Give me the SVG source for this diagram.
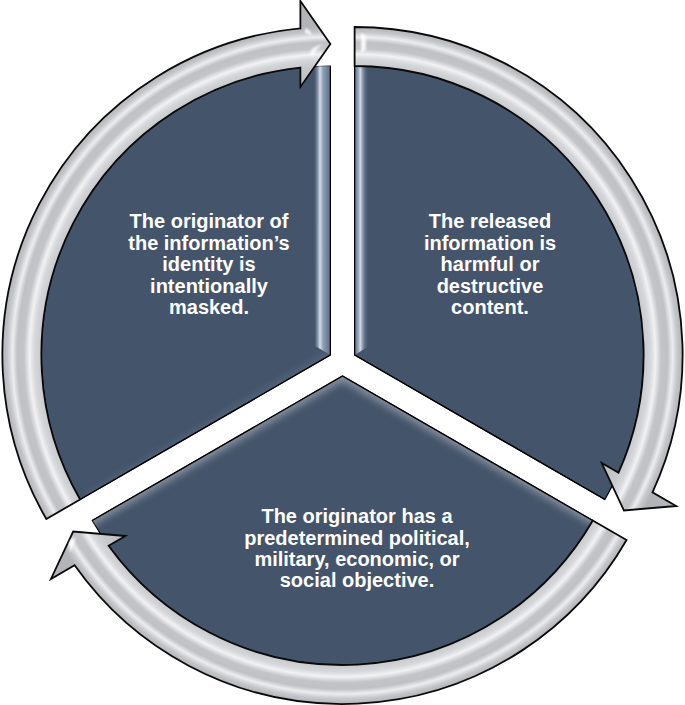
<svg xmlns="http://www.w3.org/2000/svg" width="685" height="705" viewBox="0 0 685 705">
  <style>
    .sector { fill: #44546A; stroke: #000000; stroke-width: 1.2; stroke-linejoin: round; }
    .arrow { stroke: #0A0A0A; stroke-width: 1.8; stroke-linejoin: miter; }
    .label { fill: #FFFFFF; font-family: "Liberation Sans", Arial, sans-serif; font-weight: bold; font-size: 20px; text-anchor: middle; }
    .hl { fill: #FFFFFF; opacity: 0.85; }
  </style>
  <defs>
    <radialGradient id="band" gradientUnits="userSpaceOnUse" cx="0" cy="0" r="354">
      <stop offset="0" stop-color="#BBBCC0"/>
      <stop offset="0.757" stop-color="#B9BABE"/>
      <stop offset="0.816" stop-color="#C8C9CD"/>
      <stop offset="0.836" stop-color="#D6D7DA"/>
      <stop offset="0.850" stop-color="#F2F2F4"/>
      <stop offset="0.866" stop-color="#C3C4C8"/>
      <stop offset="0.884" stop-color="#C0C1C5"/>
      <stop offset="0.898" stop-color="#EDEDEF"/>
      <stop offset="0.912" stop-color="#C6C7CB"/>
      <stop offset="0.927" stop-color="#B2B3B7"/>
      <stop offset="1" stop-color="#B6B7BB"/>
    </radialGradient>
    <radialGradient id="bandTL" href="#band" cx="330.38" cy="355"/>
    <radialGradient id="bandTR" href="#band" cx="354.62" cy="355"/>
    <radialGradient id="bandB" href="#band" cx="342.5" cy="376"/>
    <linearGradient id="bevL" gradientUnits="userSpaceOnUse" x1="313" y1="0" x2="330.4" y2="0">
      <stop offset="0" stop-color="#44546A" stop-opacity="0"/>
      <stop offset="0.25" stop-color="#8A9CB5" stop-opacity="0.8"/>
      <stop offset="0.4" stop-color="#E6ECF3" stop-opacity="0.9"/>
      <stop offset="0.6" stop-color="#9CAEC6" stop-opacity="0.8"/>
      <stop offset="1" stop-color="#5B6C86" stop-opacity="0.9"/>
    </linearGradient>
    <linearGradient id="bevR" gradientUnits="userSpaceOnUse" x1="354.6" y1="0" x2="369" y2="0">
      <stop offset="0" stop-color="#5B6C86" stop-opacity="0.9"/>
      <stop offset="0.25" stop-color="#A2B3CA" stop-opacity="0.85"/>
      <stop offset="0.4" stop-color="#E3E9F1" stop-opacity="0.9"/>
      <stop offset="0.6" stop-color="#8CA0BA" stop-opacity="0.75"/>
      <stop offset="1" stop-color="#44546A" stop-opacity="0"/>
    </linearGradient>
    <clipPath id="clipTL"><path d="M 330.38 355 L 80.10 499.5 A 289 289 0 0 1 330.38 66 Z"/></clipPath>
    <clipPath id="clipTR"><path d="M 354.62 355 L 354.62 66 A 289 289 0 0 1 604.90 499.5 Z"/></clipPath>
    <clipPath id="clipB"><path d="M 342.5 376 L 592.78 520.5 A 289 289 0 0 1 92.22 520.5 Z"/></clipPath>
    <filter id="glow" x="-20%" y="-20%" width="140%" height="140%"><feGaussianBlur stdDeviation="4"/></filter>
    <filter id="soft" x="-50%" y="-50%" width="200%" height="200%"><feGaussianBlur stdDeviation="0.8"/></filter>
  </defs>

  <g id="node-1">
    <path class="sector" d="M 330.38 355 L 80.10 499.5 A 289 289 0 0 1 330.38 66 Z"/>
    <g clip-path="url(#clipTL)">
      <path d="M 86 499 L 330.38 354" stroke="#8FA2BC" stroke-width="5" opacity="0.35" filter="url(#glow)" fill="none"/>
      <polygon points="313,60 330.38,60 330.38,355 315,346" fill="url(#bevL)"/>
    </g>
    <path d="M 330.38 355 L 80.10 499.5 M 330.38 66 L 330.38 355" stroke="#000" stroke-width="1.2" fill="none"/>
    <text class="label"><tspan x="209" y="228">The originator of</tspan><tspan x="209" y="249.5">the information’s</tspan><tspan x="209" y="271">identity is</tspan><tspan x="209" y="292.5">intentionally</tspan><tspan x="209" y="314">masked.</tspan></text>
  </g>

  <g id="node-2">
    <path class="sector" d="M 354.62 355 L 354.62 66 A 289 289 0 0 1 604.90 499.5 Z"/>
    <g clip-path="url(#clipTR)">
      <polygon points="354.62,60 369,60 369,346 354.62,355" fill="url(#bevR)"/>
    </g>
    <path d="M 354.62 66 L 354.62 355 L 604.90 499.5" stroke="#000" stroke-width="1.2" fill="none"/>
    <text class="label"><tspan x="490" y="228">The released</tspan><tspan x="490" y="249.5">information is</tspan><tspan x="490" y="271">harmful or</tspan><tspan x="490" y="292.5">destructive</tspan><tspan x="490" y="314">content.</tspan></text>
  </g>

  <g id="node-3">
    <path class="sector" d="M 342.5 376 L 592.78 520.5 A 289 289 0 0 1 92.22 520.5 Z"/>
    <g clip-path="url(#clipB)">
      <path d="M 80 527 L 342.5 376 L 605 527" stroke="#FFFFFF" stroke-width="7" opacity="0.5" filter="url(#glow)" fill="none"/>
    </g>
    <path d="M 92.22 520.5 L 342.5 376 L 592.78 520.5" stroke="#000" stroke-width="1.2" fill="none"/>
    <text class="label"><tspan x="357" y="523">The originator has a</tspan><tspan x="357" y="544.5">predetermined political,</tspan><tspan x="357" y="566">military, economic, or</tspan><tspan x="357" y="587">social objective.</tspan></text>
  </g>

  <g id="connectors">
    <path class="arrow" fill="url(#bandTL)" d="M 80.10 499.5 L 46.32 519 A 328 328 0 0 1 300.38 28.37 L 300.38 1 L 330.38 44 L 300.38 87 L 300.38 67.56 A 289 289 0 0 0 80.10 499.5 Z"/>
    <path class="arrow" fill="url(#bandTR)" d="M 354.62 66 L 354.62 27 A 328 328 0 0 1 652.49 492.34 L 676.18 506.02 L 623.95 510.5 L 601.71 463.02 L 618.55 472.74 A 289 289 0 0 0 354.62 66 Z"/>
    <path class="arrow" fill="url(#bandB)" d="M 592.78 520.5 L 626.56 540 A 328 328 0 0 1 74.63 565.30 L 50.94 578.98 L 73.17 531.5 L 125.41 535.98 L 108.57 545.70 A 289 289 0 0 0 592.78 520.5 Z"/>
    <g filter="url(#soft)">
      <path class="hl" d="M 305 28 Q 310 29 312 36 Q 308 33 305 33 Z"/>
      <path class="hl" d="M 322 44 L 311 57 Q 309 52 313 48 Z"/>
      <path class="hl" d="M 361 33 L 366 36 L 366 50 L 361 53 Z"/>
      <path class="hl" d="M 76 537 L 71 552 Q 68 546 70 541 Z"/>
    </g>
  </g>
</svg>
